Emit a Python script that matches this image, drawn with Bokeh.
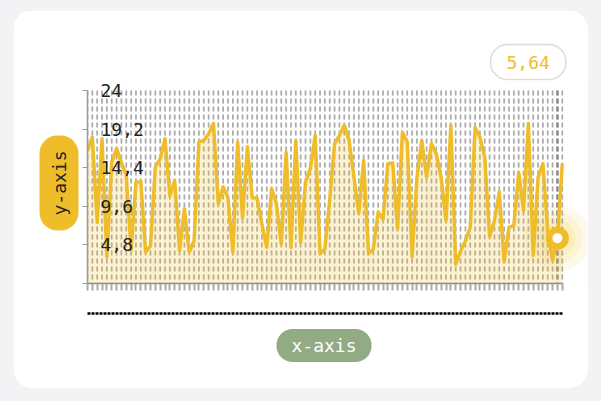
from bokeh.plotting import figure
from bokeh.models import (Range1d, FixedTicker, Label, Title, LinearAxis,
                          CustomJSTickFormatter, GlobalInlineStyleSheet)
from bokeh.core.properties import value
from bokeh.embed import file_html
from bokeh.resources import INLINE

# series, one value per step
values = [
    16.5, 18.2, 7.6, 18.0, 3.3, 15.1, 16.8, 15.0, 13.5, 4.1,
    12.6, 12.7, 3.9, 4.7, 14.5, 15.5, 18.0, 10.9, 12.8, 4.1,
    9.3, 3.9, 5.3, 17.6, 17.8, 18.6, 19.9, 9.9, 12.0, 10.7,
    3.9, 17.6, 8.2, 17.0, 10.7, 10.6, 7.4, 4.5, 11.8, 9.9,
    4.9, 16.3, 4.5, 17.8, 5.1, 12.6, 14.3, 18.4, 3.7, 4.3,
    10.5, 17.4, 18.4, 19.7, 17.8, 13.2, 8.7, 15.3, 3.7, 4.3,
    8.9, 8.0, 14.9, 15.0, 6.8, 18.8, 17.6, 3.3, 13.2, 17.8,
    13.2, 17.4, 16.1, 13.2, 7.8, 19.7, 2.4, 4.0, 5.3, 7.0,
    19.4, 18.2, 15.7, 5.8, 7.8, 11.4, 2.7, 7.0, 7.2, 13.8,
    9.1, 19.9, 3.5, 13.2, 14.9, 6.6, 2.9, 5.64, 14.9,
]
index = list(range(len(values)))
y_ticks = [0, 4.8, 9.6, 14.4, 19.2, 24]
y_tick_labels = ["", "4,8", "9,6", "14,4", "19,2", "24"]
hover_i = 97
last = len(values) - 1
y_top = y_ticks[-1]

YELLOW = "#f0bd2a"
GREEN = "#93ab85"
MONO = "DejaVu Sans Mono"

# ranges run a little past the data so the top label and the hover glow are not cut off
p = figure(width=575, height=378, x_range=Range1d(0, 103), y_range=Range1d(0, 25),
           output_backend="svg", toolbar_location=None,
           min_border_left=74, min_border_right=2, min_border_top=72, min_border_bottom=105,
           border_fill_color="white", background_fill_color="white", outline_line_color=None)
p.styles = {"border-radius": "20px", "overflow": "hidden"}
p.stylesheets = [GlobalInlineStyleSheet(css="html, body { background: #f3f3f5; } body { margin: 10px 0 0 13px; }")]

blank = CustomJSTickFormatter(code="return ''")
space = CustomJSTickFormatter(code="return ' '")

# x axis: a tick per step, no visible labels; the standoff sets the gap to the dotted rule
p.xaxis.bounds = (0, last)
p.xaxis.ticker = FixedTicker(ticks=index)
p.xaxis.formatter = space
p.xaxis.major_label_text_font_size = "1px"
p.xaxis.major_label_standoff = 19
p.xaxis.major_tick_out = 7
p.xaxis.major_tick_in = 0
p.xaxis.major_tick_line_color = "#aaaaaa"
p.xaxis.major_tick_line_width = 2
p.xaxis.axis_line_color = "#8a8a8a"
p.xaxis.axis_line_width = 1.5

# y axis: short ticks, labels drawn inside the plot below
p.yaxis.bounds = (0, y_top)
p.yaxis.ticker = FixedTicker(ticks=y_ticks)
p.yaxis.formatter = blank
p.yaxis.major_label_text_font_size = "1px"
p.yaxis.major_label_standoff = 0
p.yaxis.major_tick_out = 5
p.yaxis.major_tick_in = 0
p.yaxis.major_tick_line_color = "#999999"
p.yaxis.axis_line_color = "#999999"
p.yaxis.axis_line_width = 1.5

p.xgrid.grid_line_color = None
p.ygrid.grid_line_color = None

# dashed vertical grid, one line per step, from the top tick down
p.segment(x0=index, y0=y_top, x1=index, y1=0, line_color="#a8a8a8", line_width=1.7, line_dash="5 3")

# dotted rule under the axis
p.add_layout(LinearAxis(ticker=FixedTicker(ticks=[]), formatter=blank, bounds=(0, last),
                        axis_line_color="black", axis_line_width=2.5, axis_line_dash="3 1",
                        major_tick_out=0, major_tick_in=0), "below")

# hover crosshair
p.segment(x0=[hover_i], y0=[y_top], x1=[hover_i], y1=[0], line_color="#8c8c8c",
          line_width=2.5, line_dash="5 3")

# area and line
p.varea(x=index, y1=0, y2=values, fill_color=YELLOW, fill_alpha=0.22)
p.line(index, values, line_color=YELLOW, line_width=3.5, line_join="round")

# y tick labels
p.text(x=[0] * 5, y=y_ticks[1:], text=y_tick_labels[1:], x_offset=13,
       text_align="left", text_baseline="middle", text_font=value(MONO),
       text_font_size="18px", text_color="#222222")

# glow around the hovered point
for d, a in [(66, 0.12), (50, 0.14), (36, 0.18)]:
    p.add_layout(Label(x=hover_i, y=values[hover_i], text=" ", text_font_size="1px",
                       text_align="center", text_baseline="middle",
                       background_fill_color="#f5d35a", background_fill_alpha=a,
                       padding=d // 2, border_radius=d // 2, level="underlay"))

p.scatter([hover_i], [values[hover_i]], size=23, fill_color=YELLOW, line_color=None)
p.scatter([hover_i], [values[hover_i]], size=10, fill_color="white", line_color=None)

# tooltip bubble above the plot
tip = "{:g}".format(values[hover_i]).replace(".", ",")
p.add_layout(Title(text=tip, align="left", offset=403, standoff=6, text_font=MONO,
                   text_font_size="18px", text_font_style="normal", text_color=YELLOW,
                   background_fill_color="white", border_line_color="#dcdcdc",
                   border_line_width=1.5, padding=(16, 11), border_radius=17), "above")

# axis titles as pills
p.add_layout(Title(text="y-axis", align="center", standoff=8, text_font=MONO,
                   text_font_size="18px", text_font_style="normal", text_color="#222222",
                   background_fill_color=YELLOW, padding=(15, 9), border_radius=18), "left")
p.add_layout(Title(text="x-axis", align="left", offset=189, standoff=27, text_font=MONO,
                   text_font_size="18px", text_font_style="normal", text_color="white",
                   background_fill_color=GREEN, padding=(15, 6), border_radius=16), "below")

open("out.html", "w").write(file_html(p, INLINE))
